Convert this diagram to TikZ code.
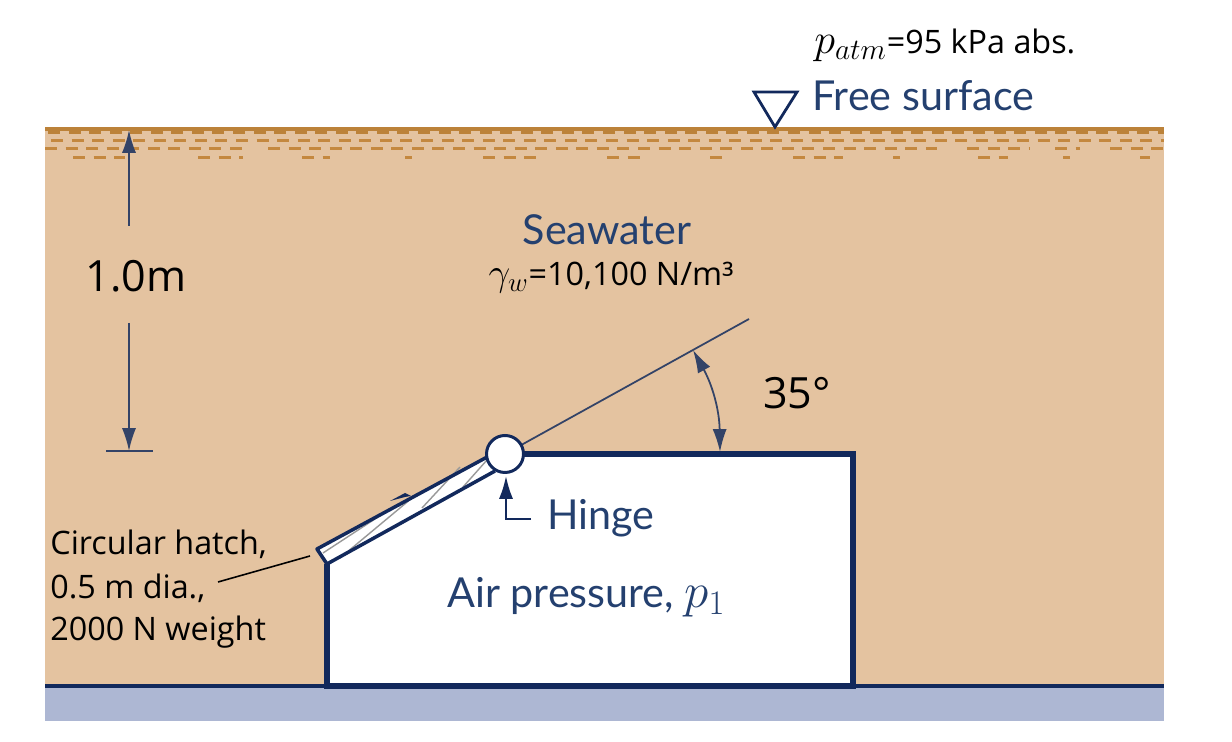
\documentclass[tikz,border=0pt]{standalone}
\usepackage{fix-cm}
\usepackage{fontspec}
\setmainfont{Open Sans}
\newfontfamily\labelfont{Lato}
\usetikzlibrary{arrows.meta}

\definecolor{navy}{HTML}{12295C}
\definecolor{inkblue}{HTML}{24406F}
\definecolor{seawater}{HTML}{E4C3A0}
\definecolor{band}{HTML}{BC8239}
\definecolor{dashbrown}{HTML}{C4883F}
\definecolor{ground}{HTML}{ADB7D3}

\tikzset{
    ripplerow/.style={dashbrown, line width=1.7pt, dash pattern=on 6.8pt off 4.9pt},
    wall/.style={navy, line width=3pt},
    dimline/.style={navy!70!gray, line width=1pt},
    tipped/.style={-{Latex[length=13pt,width=8pt]}},
    bluetext/.style={text=inkblue, font=\labelfont\fontsize{23.5}{28}\selectfont, inner sep=0pt},
    blacktext/.style={text=black, inner sep=0pt},
    bigtext/.style={blacktext, font=\fontsize{24.5}{29}\selectfont},
    smalltext/.style={blacktext, font=\fontsize{18.4}{22}\selectfont}
}

\begin{document}
\begin{tikzpicture}[x=0.02cm, y=-0.02cm]
    \useasboundingbox (0,0) rectangle (1232,742);

    % water and ground
    \fill[seawater] (45,128) rectangle (1164,686);
    \fill[ground] (45,686) rectangle (1164,721);
    \fill[band] (45,127.5) rectangle (1164,131);

    % ripples under the surface
    \draw[ripplerow, band, line width=2pt] (48,132) -- (1164,132);
    \draw[ripplerow] (51,141) -- (1164,141);
    \draw[ripplerow] (45,149) -- (247,149) (268,149) -- (937,149) (967,149) -- (1030,149) (1055,149) -- (1080,149) (1110,149) -- (1164,149);
    \foreach \xa/\xb in {73/125, 198/243, 302/330, 405/412, 483/537, 607/640, 710/722, 793/843, 893/900, 978/1008, 1063/1070, 1140/1150}
        \draw[ripplerow] (\xa,158) -- (\xb,158);

    % chamber
    \coordinate (hinge) at (505,454);
    \coordinate (hatchtop) at (489,456);
    \coordinate (hatchleft) at (317,549);
    \coordinate (hatchlow) at (327,564);
    \coordinate (hatchend) at (495,471);
    \fill[white] (hatchlow) -- (327,686) -- (853,686) -- (853,454) -- (hinge) -- cycle;
    \fill[white] (hatchleft) -- (hatchlow) -- (hatchend) -- (hatchtop) -- cycle;
    \draw[wall] (hatchlow) -- (327,686) -- (853,686) -- (853,454) -- (hinge);
    \draw[navy, line width=2.3pt] (45,686) -- (1164,686);

    % hatch
    \draw[gray!80, line width=0.8pt] (323,553) -- (378,517) (340,558) -- (418,493) (422,508) -- (460,467) (463,487) -- (487,460);
    \draw[navy, line width=2pt, line join=round] (hatchend) -- (hatchlow) -- (hatchleft) -- (hatchtop);
    \fill[navy] (390,501) -- (405,493) -- (411,496) -- (405,497) -- cycle;

    % inclined line, hinge pin
    \draw[dimline] (hinge) -- (749,319);
    \node[circle, draw=navy, fill=white, line width=1.7pt, minimum size=37*0.02cm, inner sep=0pt] (pin) at (hinge) {};

    % angle
    \coordinate (anglea) at (693,350);
    \coordinate (angleb) at (720,452);
    \draw[dimline, {Latex[length=13pt,width=8pt]}-{Latex[length=13pt,width=8pt]}] (anglea) to[bend left=14] (angleb);
    \node[bigtext] (anglelabel) at (797,393) {35°};

    % depth
    \coordinate (depthtop) at (129,130);
    \coordinate (depthlow) at (129,451);
    \coordinate (deptha) at (129,226);
    \coordinate (depthb) at (129,323);
    \coordinate (benchl) at (106,451);
    \coordinate (benchr) at (153,451);
    \draw[dimline, tipped] (deptha) -- (depthtop);
    \draw[dimline, tipped] (depthb) -- (depthlow);
    \draw[dimline] (benchl) -- (benchr);
    \node[bigtext] (depthlabel) at (136,276) {1.0m};

    % free surface
    \draw[navy, line width=1.6pt, line join=miter, fill=white] (754,92) -- (797,92) -- (775,127) -- cycle;
    \node[bluetext, anchor=west] (freesurface) at (812,96) {Free surface};
    \node[smalltext, anchor=west] (patm) at (814,45) {{\fontsize{24}{26}\selectfont$p_{atm}$}=95 kPa abs.};

    % seawater
    \node[bluetext] (seawaterlabel) at (607,230) {Seawater};
    \node[smalltext] (gammaw) at (611,278) {{\fontsize{22}{26}\selectfont$\gamma_{w}$}=10,100 N/m³};

    % hinge, air
    \coordinate (hingebend) at (506,519);
    \coordinate (hingeend) at (531,519);
    \coordinate (hingetip) at (506,476);
    \draw[navy, line width=1.2pt, tipped] (hingeend) -- (hingebend) -- (hingetip);
    \node[bluetext, anchor=west] (hingelabel) at (547,518) {Hinge};
    \node[bluetext, anchor=west] (airlabel) at (447,597) {Air pressure, {\fontsize{28}{30}\selectfont$p_{1}$}};

    % hatch label
    \coordinate (leadera) at (218,582);
    \coordinate (leaderb) at (310,556);
    \draw[black, line width=0.9pt] (leadera) -- (leaderb);
    \node[smalltext, anchor=west] (hatcha) at (50,544) {Circular hatch,};
    \node[smalltext, anchor=west] (hatchb) at (50,588) {0.5 m dia.,};
    \node[smalltext, anchor=west] (hatchc) at (50,632) {2000 N weight};
\end{tikzpicture}
\end{document}
